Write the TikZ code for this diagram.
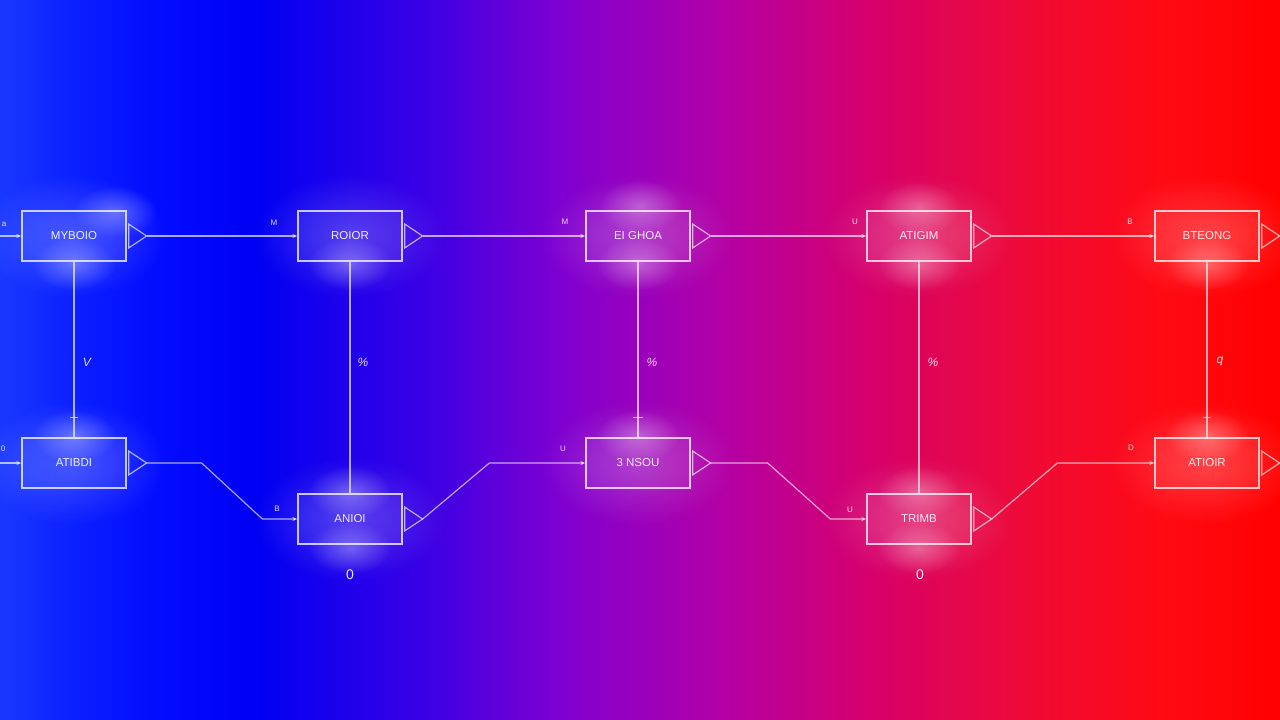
\documentclass[tikz,border=0pt]{standalone}
\usepackage{fontspec}
\setmainfont{Liberation Sans}
\usetikzlibrary{arrows.meta,fadings,calc}
\pgfdeclarehorizontalshading{bgshade}{100bp}{rgb(0bp)=(0.1,0.22,1); rgb(25bp)=(0.1,0.22,1); rgb(28bp)=(0.04,0.12,1); rgb(31bp)=(0.01,0.05,1); rgb(35bp)=(0,0,0.95); rgb(41.4bp)=(0.22,0,0.9); rgb(46.9bp)=(0.5,0,0.82); rgb(53.1bp)=(0.7,0,0.65); rgb(59bp)=(0.84,0,0.42); rgb(64.8bp)=(0.93,0.04,0.22); rgb(70.3bp)=(1,0.04,0.08); rgb(75bp)=(1,0,0); rgb(100bp)=(1,0,0)}
\tikzfading[name=glowfade, inner color=transparent!0, outer color=transparent!100]
\tikzset{
  wire/.style={draw=white, draw opacity=0.65, line width=1.2pt},
  arrowin/.style={-{Stealth[length=5pt,width=4pt]}},
  boxnode/.style={draw=white, draw opacity=0.75, line width=1.3pt, fill=white, fill opacity=0.06,
    text=white, text opacity=0.9, minimum width=104pt, minimum height=50pt, inner sep=0pt,
    font=\fontsize{11.5}{12}\selectfont},
  tiny/.style={text=white, text opacity=0.85, font=\fontsize{8}{8}\selectfont, inner sep=0pt},
  vlab/.style={text=white, text opacity=0.85, font=\itshape\fontsize{12}{12}\selectfont, inner sep=0pt},
  glow/.style={fill=white, path fading=glowfade}
}
\newcommand\bufsym[1]{%
  \draw[wire] ($(#1.east)+(2,-12)$) -- ($(#1.east)+(20,0)$) -- ($(#1.east)+(2,12)$) -- cycle;
  \coordinate (#1o) at ($(#1.east)+(20,0)$);}
\begin{document}
\begin{tikzpicture}[x=1pt,y=-1pt]
\useasboundingbox (0,0) rectangle (1280,720);
\shade[shading=bgshade] (0,0) rectangle (1280,720);
% glows
\foreach \gx/\gy in {74/236,350/236,638/236,919/236,1207/236,74/463,638/463,1207/463,350/519,919/519}{
  \fill[glow, opacity=0.2] (\gx,\gy) ellipse [x radius=95, y radius=62];
}
\foreach \gx/\gy in {74/264,350/264,638/264,919/264,1207/264,74/436,638/436,1207/436,350/492,919/492,115/212,640/206,919/208,350/548,919/548}{
  \fill[glow, opacity=0.3] (\gx,\gy) ellipse [x radius=42, y radius=26];
}
% boxes
\node[boxnode] (a1) at (74,236) {MYBOIO};
\node[boxnode] (a2) at (350,236) {ROIOR};
\node[boxnode] (a3) at (638,236) {EI GHOA};
\node[boxnode] (a4) at (919,236) {ATIGIM};
\node[boxnode] (a5) at (1207,236) {BTEONG};
\node[boxnode] (b1) at (74,463) {ATIBDI};
\node[boxnode] (b2) at (350,519) {ANIOI};
\node[boxnode] (b3) at (638,463) {3 NSOU};
\node[boxnode] (b4) at (919,519) {TRIMB};
\node[boxnode] (b5) at (1207,463) {ATIOIR};
\bufsym{a1}\bufsym{a2}\bufsym{a3}\bufsym{a4}\bufsym{a5}
\bufsym{b1}\bufsym{b2}\bufsym{b3}\bufsym{b4}\bufsym{b5}
% inputs / outputs
\coordinate (inA) at (0,236);
\coordinate (inB) at (0,463);
\coordinate (outA) at (1280,236);
\coordinate (outB) at (1280,463);
\draw[wire,arrowin] (inA) -- (a1.west);
\draw[wire,arrowin] (inB) -- (b1.west);
\draw[wire] (a5o) -- (outA);
\draw[wire] (b5o) -- (outB);
% top row
\draw[wire,arrowin] (a1o) -- (a2.west);
\draw[wire,arrowin] (a2o) -- (a3.west);
\draw[wire,arrowin] (a3o) -- (a4.west);
\draw[wire,arrowin] (a4o) -- (a5.west);
% bottom row
\draw[wire,arrowin] (b1o) -- ++(55,0) -- ($(b2.west)+(-35,0)$) -- (b2.west);
\draw[wire,arrowin] (b2o) -- ($(b3.west)+(-96,0)$) -- (b3.west);
\draw[wire,arrowin] (b3o) -- ++(57,0) -- ($(b4.west)+(-36,0)$) -- (b4.west);
\draw[wire,arrowin] (b4o) -- ($(b5.west)+(-97,0)$) -- (b5.west);
% verticals
\draw[wire] (a1.south) -- (b1.north);
\draw[wire] (a2.south) -- (b2.north);
\draw[wire] (a3.south) -- (b3.north);
\draw[wire] (a4.south) -- (b4.north);
\draw[wire] (a5.south) -- (b5.north);
\draw[wire] ($(b1.north)+(-4,-20)$) -- ++(8,0);
\draw[wire] ($(b3.north)+(-5,-20)$) -- ++(10,0);
\draw[wire] ($(b5.north)+(-4,-20)$) -- ++(8,0);
% vertical labels
\node[vlab] (v1) at (87,362) {V};
\node[vlab] (v2) at (363,362) {\%};
\node[vlab] (v3) at (652,362) {\%};
\node[vlab] (v4) at (933,362) {\%};
\node[vlab] (v5) at (1220,362) {q};
% small labels
\node[tiny] (s0) at (4,224) {a};
\node[tiny] (s1) at (274,223) {M};
\node[tiny] (s2) at (565,222) {M};
\node[tiny] (s3) at (855,222) {U};
\node[tiny] (s4) at (1130,222) {B};
\node[tiny] (s5) at (3,449) {0};
\node[tiny] (s6) at (277,509) {B};
\node[tiny] (s7) at (563,449) {U};
\node[tiny] (s8) at (850,510) {U};
\node[tiny] (s9) at (1131,448) {D};
% zeros
\node[text=white, text opacity=0.9, font=\fontsize{14}{14}\selectfont] (z1) at (350,575) {0};
\node[text=white, text opacity=0.9, font=\fontsize{14}{14}\selectfont] (z2) at (920,575) {0};
\end{tikzpicture}
\end{document}
